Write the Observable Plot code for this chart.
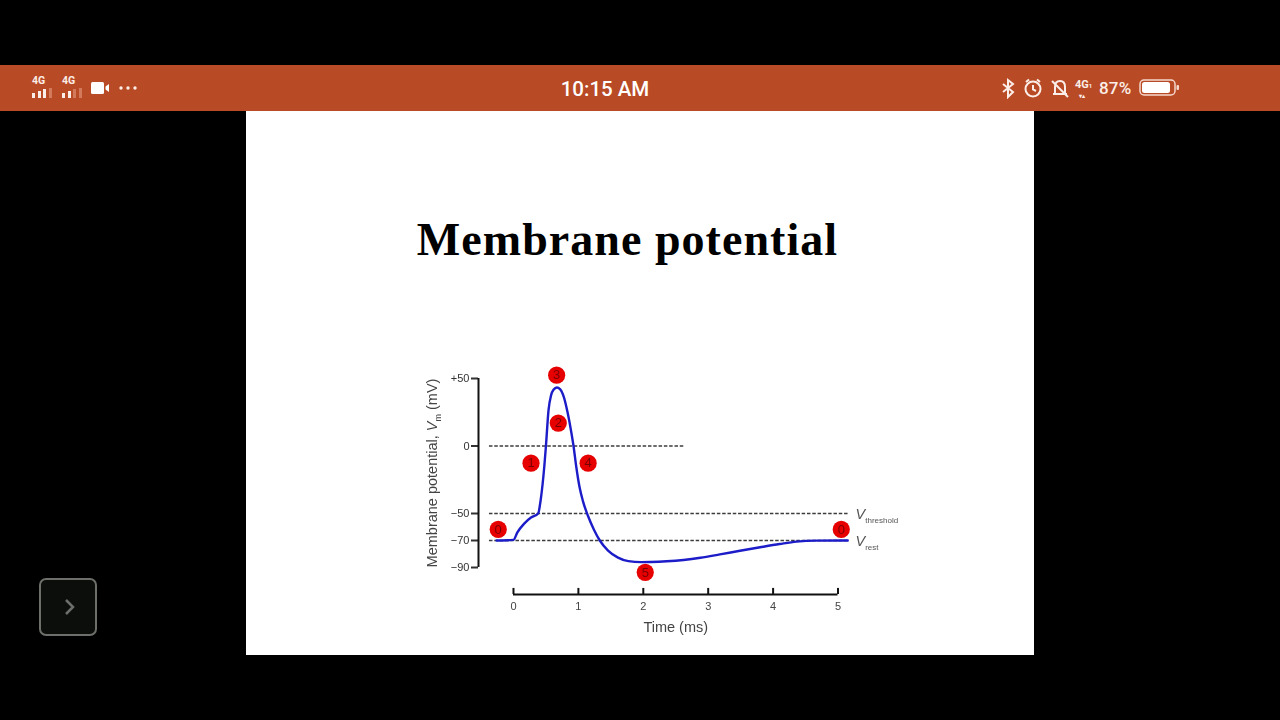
<!DOCTYPE html>
<html><head><meta charset="utf-8">
<script src="https://cdn.jsdelivr.net/npm/d3@7"></script>
<script src="https://cdn.jsdelivr.net/npm/@observablehq/plot@0.6"></script>
<style>
html,body{margin:0;padding:0;background:#000;width:1280px;height:720px;overflow:hidden}
body{position:relative;font-family:"Liberation Sans",Arial,sans-serif}
#bar{position:absolute;left:0;top:65px;width:1280px;height:46px;background:#b94a26;color:#fbeee8;font-family:Roboto,sans-serif}
#bar>*{position:absolute}
#clock{left:505px;width:200px;text-align:center;top:11px;font-size:20.5px;font-weight:500;color:#fff;line-height:26px}
#batt{left:1099px;top:12px;font-size:17px;font-weight:500;line-height:23px;letter-spacing:.2px}
.g{font-size:10.5px;font-weight:700;line-height:10px}
.bars{display:flex;gap:2.5px;align-items:flex-end;height:9px}
.bars i{display:block;width:3px;background:#fbeee8}
.bars i.off{background:#d27a5b}
#slide{position:absolute;left:246px;top:111px;width:788px;height:544px;background:#fff}
#title{position:absolute;left:0;top:101px;width:763px;text-align:center;font:700 46px "Liberation Serif",serif;color:#000;line-height:56px;letter-spacing:1.05px;white-space:nowrap}
#chart{position:absolute;left:410px;top:360px;filter:blur(.4px)}
#btn{position:absolute;left:39px;top:578px;width:54px;height:54px;border:2px solid #6d6f6b;border-radius:7px;background:#0c0e0c}
</style></head><body>
<div id="bar">
  <div class="g" style="left:32px;top:11px">4G</div><div class="bars" style="left:32px;top:24px"><i style="height:5px"></i><i style="height:7px"></i><i style="height:9px"></i><i class="off" style="height:10px"></i></div>
  <div class="g" style="left:62px;top:11px">4G</div><div class="bars" style="left:62px;top:24px"><i style="height:5px"></i><i style="height:7px"></i><i class="off" style="height:9px"></i><i class="off" style="height:10px"></i></div>
  <svg style="left:91px;top:16px" width="20" height="14"><rect x="0" y="1" width="13" height="12" rx="1.5" fill="#fff"/><path d="M14.5 5.5L18 3V11L14.5 8.5Z" fill="#fff"/></svg>
  <svg style="left:118px;top:19px" width="22" height="8"><g fill="#fbeee8"><circle cx="3" cy="4" r="1.7"/><circle cx="10" cy="4" r="1.7"/><circle cx="17" cy="4" r="1.7"/></g></svg>
  <div id="clock">10:15 AM</div>
  <svg style="left:1000px;top:12px" width="75" height="22" fill="none" stroke="#fbeee8" stroke-width="2">
    <path d="M3 7L13 15L8 20V3L13 7L3 15"/>
    <circle cx="33" cy="12" r="7.5"/><path d="M33 8V12.5L36 14M26 5L29 2.5M40 5L37 2.5"/>
    <path d="M53 17H67M55 16V10C55 6 57 4 60 4S65 6 65 10V16M52 4L68 20"/>
  </svg>
  <div class="g" style="left:1075px;top:15px;font-size:11px">4G<span style="font-size:6px">1</span></div>
  <div class="g" style="left:1079px;top:26px;font-size:6px">▾▴</div>
  <div id="batt">87%</div>
  <svg style="left:1139px;top:13px" width="42" height="20"><rect x="1" y="2" width="35" height="15" rx="4" fill="none" stroke="#f4d8cc" stroke-width="1.5"/><rect x="3" y="4" width="28" height="11" rx="2.5" fill="#fff"/><rect x="37.5" y="7" width="2.5" height="5" rx="1" fill="#f4d8cc"/></svg>
</div>
<div id="slide"><div id="title">Membrane potential</div></div>
<div id="chart"></div>
<div id="btn"><svg width="54" height="54" fill="none" stroke="#6d6f6b" stroke-width="2.5"><path d="M25 20L32 27L25 34"/></svg></div>
<script>
const timeMs = [-0.26,0,0.06,0.165,0.27,0.38,0.42,0.475,0.5,0.54,0.58,0.62,0.667,0.72,0.775,0.837,0.89,0.925,0.966,1.02,1.07,1.147,1.24,1.33,1.457,1.61,1.77,1.97,2.11,2.36,2.62,2.88,3.18,3.49,3.8,4.1,4.36,4.67,5.15];
const potentialMv = [-70,-69.5,-64,-57.5,-53,-50,-39.6,-15,0,26.5,37.7,41.8,43.3,42,36.4,24,10.4,0,-15,-31,-40.8,-51.7,-62,-70,-77.5,-82.7,-85.3,-86,-85.9,-85.4,-84.4,-82.8,-80.3,-77.6,-75,-72.6,-70.8,-70.1,-70];
const stageLabels = ["0","1","2","3","4","5","0"];
const stageTime = [-0.235,0.27,0.69,0.665,1.15,2.03,5.05];
const stageMv = [-61.8,-12.7,17,52.5,-12.7,-93.6,-61.8];
const refLevels = [0,-50,-70];
const refEnd = [2.65,5.18,5.18];
const refStart = -0.37;
const yTicks = [50,0,-50,-70,-90];
const yTickLabels = ["+50","0","−50","−70","−90"];
const xTicks = [0,1,2,3,4,5];
const vLabels = ["V|threshold|","V|rest|"];
const vLabelMv = [-50,-70];
const vLabelTime = 5.27;

const curve = timeMs.map((t,i)=>({t,v:potentialMv[i]}));
const stages = stageLabels.map((s,i)=>({s,t:stageTime[i],v:stageMv[i]}));
const refs = refLevels.map((v,i)=>({v,x1:refStart,x2:refEnd[i]}));
const vs = vLabels.map((s,i)=>({s,v:vLabelMv[i]}));
const ink = "#444";
const xLeft = -0.539, yFloor = -110;

const chart = Plot.plot({
  width:520,height:290,marginLeft:68,marginRight:0,marginTop:18,marginBottom:56,
  style:{background:"transparent",fontFamily:"'Liberation Sans',Arial,sans-serif",overflow:"visible"},
  x:{domain:[xLeft,6.425]},
  y:{domain:[yFloor,50]},
  marks:[
    Plot.axisX({ticks:xTicks,tickSize:0,tickPadding:8,tickFormat:"d",fontSize:11,color:ink,label:null}),
    Plot.text(["Time (ms)"],{x:2.5,y:yFloor,dy:33,fontSize:14.5,fill:ink,text:d=>d}),
    Plot.ruleY([yFloor],{x1:0,x2:5,stroke:"#111",strokeWidth:2}),
    Plot.ruleX(xTicks,{y1:yFloor,y2:-105.5,stroke:"#111",strokeWidth:2}),
    Plot.axisY({ticks:yTicks,tickSize:7,tickPadding:2,tickFormat:d=>yTickLabels[yTicks.indexOf(d)],label:null,color:"#333",strokeWidth:2,fontSize:11}),
    Plot.ruleX([xLeft],{y1:-90,y2:50,stroke:"#111",strokeWidth:2}),
    Plot.text(["Membrane potential, V|m| (mV)"],{x:xLeft,y:-20,dx:-46,rotate:-90,fontSize:14.5,fill:ink,text:d=>d}),
    Plot.ruleY(refs,{y:"v",x1:"x1",x2:"x2",stroke:"#3c3c3c",strokeWidth:1.3,strokeDasharray:"3.5,1.8"}),
    Plot.line(curve,{x:"t",y:"v",curve:"monotone-x",stroke:"#1c1cc8",strokeWidth:2.4}),
    Plot.dot(stages,{x:"t",y:"v",r:8.6,fill:"#e60000"}),
    Plot.text(stages,{x:"t",y:"v",text:"s",fill:"#7a0000",fontSize:13}),
    Plot.text(vs,{x:vLabelTime,y:"v",text:"s",textAnchor:"start",fill:"#555",fontSize:14.5,dy:1})
  ]
});
// Italic variable with a small subscript
d3.select(chart).selectAll("text").each(function(){
  const s=this.textContent;
  if(!s.includes("|"))return;
  const p=s.split("|"), t=d3.select(this);
  const small=p[1]==="m"?9:8;
  t.text(null);
  if(p[0].slice(0,-1))t.append("tspan").text(p[0].slice(0,-1));
  t.append("tspan").attr("font-style","italic").text("V");
  t.append("tspan").attr("font-size",small).attr("dy",4).text(p[1]);
  if(p[2])t.append("tspan").attr("dy",-4).text(p[2]);
});
document.getElementById("chart").append(chart);
</script>
</body></html>
